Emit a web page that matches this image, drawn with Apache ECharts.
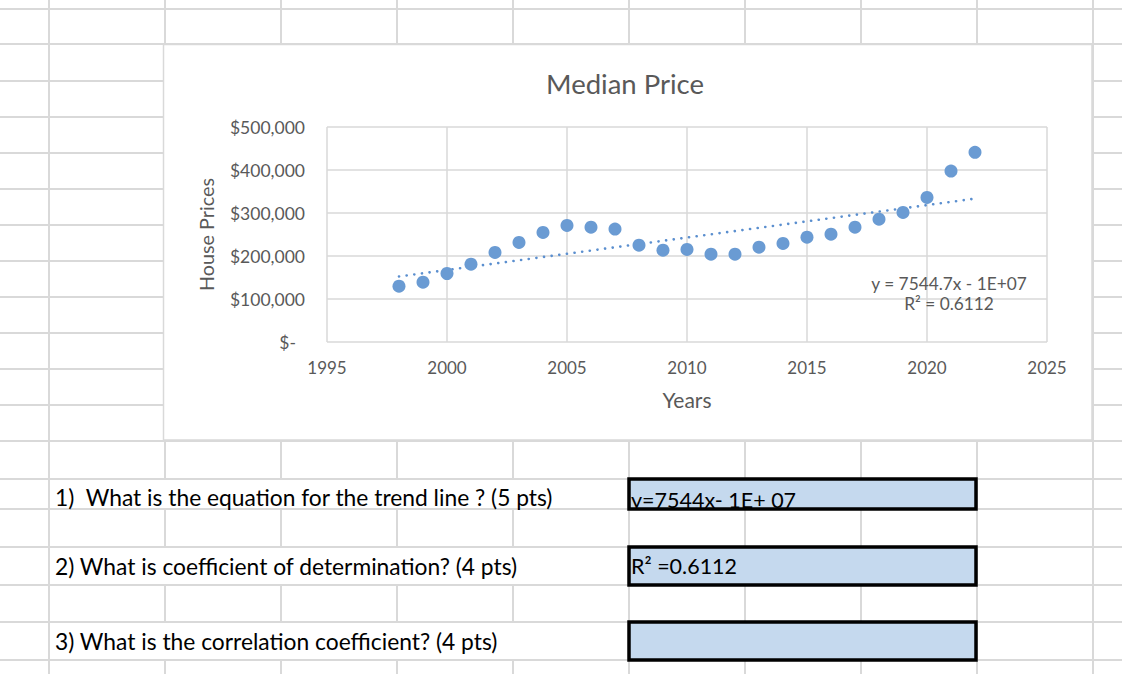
<!DOCTYPE html>
<html>
<head>
<meta charset="utf-8">
<script src="https://cdn.jsdelivr.net/npm/echarts@6/dist/echarts.min.js"></script>
<style>
html,body{margin:0;padding:0;background:#fff;}
#main{width:1122px;height:674px;}
</style>
</head>
<body>
<div id="main"></div>
<script>
// ---- data ----
const years = [1998,1999,2000,2001,2002,2003,2004,2005,2006,2007,2008,2009,2010,2011,2012,2013,2014,2015,2016,2017,2018,2019,2020,2021,2022];
const prices = [129700,139000,159300,181000,208200,231500,254800,271000,267100,262500,225200,213600,215200,204200,204200,220500,229200,243800,250800,267100,285700,301400,336300,397500,441100];
const trendYears = [1998, 2022];
const trendValues = [152300, 333400];
const xTicks = [1995, 2000, 2005, 2010, 2015, 2020, 2025];
const yTicks = [0, 100000, 200000, 300000, 400000, 500000];
const chartTitle = 'Median Price';
const xName = 'Years';
const yName = 'House Prices';
const eqLines = ['y = 7544.7x - 1E+07', 'R² = 0.6112'];
const questions = [
  '1)  What is the equation for the trend line ? (5 pts)',
  '2) What is coefficient of determination? (4 pts)',
  '3) What is the correlation coefficient? (4 pts)'
];
const answers = ['y=7544x- 1E+ 07', 'R² =0.6112', ''];

// ---- layout (sheet) ----
const ROWS = [9, 44, 81, 117, 153, 189, 225, 261, 297, 333, 369, 405, 441, 479, 509, 547, 585, 622, 660];
const COLS = [49, 165, 281, 397, 513, 629, 745, 861, 977, 1093];
const QROWS = [[479, 509], [547, 585], [622, 660]];
const FONT = 'Lato, "Open Sans", sans-serif';
const GRID_C = '#d9d9d9';

const chart = echarts.init(document.getElementById('main'), null, {renderer: 'svg'});

const g = [];
g.push({type: 'rect', z: -20, shape: {x: 0, y: 0, width: 1122, height: 674}, style: {fill: '#ffffff'}, silent: true});
ROWS.forEach(y => g.push({type: 'line', z: -19, shape: {x1: 0, y1: y, x2: 1122, y2: y}, style: {stroke: GRID_C, lineWidth: 2}, silent: true}));
COLS.forEach(x => {
  const hidden = x > 49 && x < 629;
  let segs = [[0, 674]];
  if (hidden) {
    segs = [];
    let start = 0;
    QROWS.forEach(r => { segs.push([start, r[0]]); start = r[1]; });
    segs.push([start, 674]);
  }
  segs.forEach(s => g.push({type: 'line', z: -19, shape: {x1: x, y1: s[0], x2: x, y2: s[1]}, style: {stroke: GRID_C, lineWidth: 2}, silent: true}));
});
// chart area
g.push({type: 'rect', z: -10, shape: {x: 163.5, y: 44.5, width: 928.5, height: 395.5}, style: {fill: '#ffffff', stroke: '#d9d9d9', lineWidth: 1.5}, silent: true});
g.push({type: 'text', z: 5, x: 625, y: 83, style: {text: chartTitle, fill: '#595959', font: '27.5px ' + FONT, textAlign: 'center', textVerticalAlign: 'middle'}});
eqLines.forEach((t, i) => g.push({type: 'text', z: 5, x: 949, y: 283 + i * 20, style: {text: t, fill: '#595959', font: '17.3px ' + FONT, textAlign: 'center', textVerticalAlign: 'middle'}}));
// questions
const qY = [497, 566, 641];
questions.forEach((t, i) => g.push({type: 'text', z: 5, x: 55, y: qY[i], style: {text: t, fill: '#000000', font: '22.8px ' + FONT, textAlign: 'left', textVerticalAlign: 'middle'}}));
// answer boxes
QROWS.forEach((r, i) => {
  g.push({type: 'rect', z: 6, shape: {x: 629, y: r[0], width: 347, height: r[1] - r[0]}, style: {fill: '#c5d9ee'}, silent: true});
  if (answers[i]) {
    g.push({type: 'text', z: 7, x: 631, y: i === 0 ? 500 : qY[i], style: {text: answers[i], fill: '#000000', font: '21.5px ' + FONT, textAlign: 'left', textVerticalAlign: 'middle'}});
  }
  if (i === 0) {
    g.push({type: 'rect', z: 8, shape: {x: 630, y: 510, width: 20, height: 10}, style: {fill: '#ffffff'}, silent: true});
  }
  g.push({type: 'rect', z: 9, shape: {x: 629, y: r[0], width: 347, height: r[1] - r[0]}, style: {fill: 'none', stroke: '#000000', lineWidth: 3.5}, silent: true});
});

const option = {
  animation: false,
  backgroundColor: 'transparent',
  textStyle: {fontFamily: FONT},
  grid: {left: 327, top: 127, right: 75, bottom: 332, containLabel: false},
  xAxis: {
    type: 'value', min: xTicks[0], max: xTicks[xTicks.length - 1], interval: 5,
    name: xName, nameLocation: 'middle', nameGap: 47,
    nameTextStyle: {color: '#595959', fontSize: 21, fontFamily: FONT},
    axisLine: {show: false}, axisTick: {show: false},
    axisLabel: {color: '#595959', fontSize: 17, margin: 17, fontFamily: FONT, formatter: v => String(v)},
    splitLine: {show: true, lineStyle: {color: '#d9d9d9', width: 1.5}}
  },
  yAxis: {
    type: 'value', min: yTicks[0], max: yTicks[yTicks.length - 1], interval: 100000,
    name: yName, nameLocation: 'middle', nameGap: 111, nameRotate: 90,
    nameTextStyle: {color: '#595959', fontSize: 19.8, fontFamily: FONT},
    axisLine: {show: false}, axisTick: {show: false},
    axisLabel: {
      color: '#595959', fontSize: 17.5, margin: 22, fontFamily: FONT,
      formatter: v => v === 0 ? '{z|$-}' : '$' + v.toLocaleString('en-US'),
      rich: {z: {color: '#595959', fontSize: 17.5, fontFamily: FONT, padding: [0, 9, 0, 0]}}
    },
    splitLine: {show: true, lineStyle: {color: '#d9d9d9', width: 1.5}}
  },
  series: [
    {
      type: 'line', data: trendYears.map((x, i) => [x, trendValues[i]]),
      symbol: 'none', z: 3,
      lineStyle: {color: '#5b8fcf', width: 2.6, type: [0.1, 7.6], cap: 'round'}
    },
    {
      type: 'scatter', data: years.map((x, i) => [x, prices[i]]),
      symbol: 'circle', symbolSize: 13, z: 4,
      itemStyle: {color: '#6a9bd3', opacity: 1}
    }
  ],
  graphic: {elements: g}
};
chart.setOption(option);
</script>
</body>
</html>
